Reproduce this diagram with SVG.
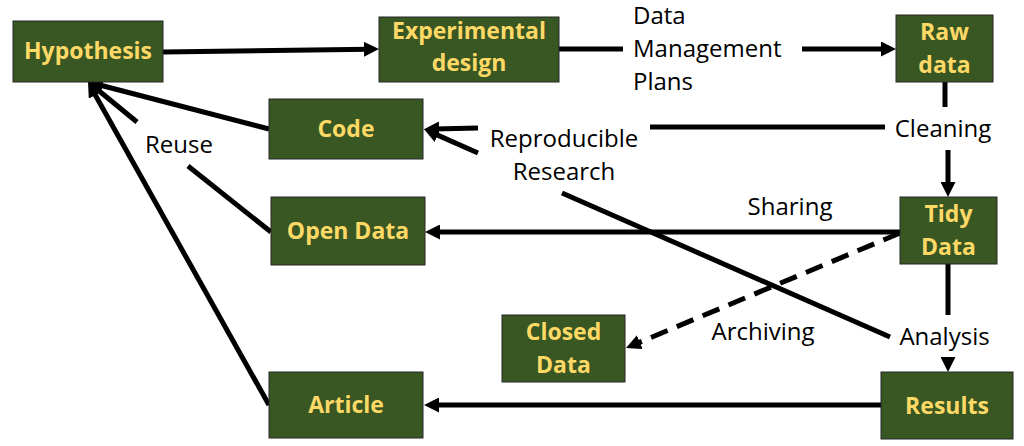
<svg xmlns="http://www.w3.org/2000/svg" width="1024" height="446" viewBox="0 0 1024 446">
<style>
.box{fill:#385723;stroke:#262626;stroke-width:1}
.nt{font-family:"Open Sans","Liberation Sans",sans-serif;font-weight:bold;font-size:23px;fill:#FFD966;text-anchor:middle}
.lb{font-family:"Open Sans","Liberation Sans",sans-serif;font-size:24px;fill:#000}
.c{fill:none;stroke:#000;stroke-width:5}
.d{stroke-dasharray:18 10}
</style>
<defs>
<marker id="ah" markerUnits="userSpaceOnUse" markerWidth="15" markerHeight="15" refX="5" refY="7.5" orient="auto" viewBox="0 0 15 15">
<path d="M0,0 L15,7.5 L0,15 z" fill="#000"/>
</marker>
</defs>
<rect width="1024" height="446" fill="#fff"/>
<g id="connectors">
<line class="c" x1="163" y1="52" x2="369" y2="49.2" marker-end="url(#ah)"/>
<line class="c" x1="559" y1="49" x2="623" y2="49"/>
<line class="c" x1="802" y1="49" x2="886" y2="49" marker-end="url(#ah)"/>
<line class="c" x1="945" y1="82" x2="945" y2="107"/>
<line class="c" x1="948" y1="150" x2="948" y2="187" marker-end="url(#ah)"/>
<line class="c" x1="885" y1="127" x2="650" y2="127"/>
<line class="c" x1="478" y1="128" x2="434" y2="129" marker-end="url(#ah)"/>
<line class="c" x1="890" y1="337" x2="562" y2="193"/>
<line class="c" x1="478" y1="153" x2="433.1" y2="133.1" marker-end="url(#ah)"/>
<line class="c" x1="900" y1="232" x2="435" y2="232" marker-end="url(#ah)"/>
<line class="c d" x1="900" y1="233" x2="635.2" y2="344.1" marker-end="url(#ah)"/>
<line class="c" x1="948" y1="264" x2="948" y2="315"/>
<line class="c" x1="948" y1="358" x2="948" y2="362" marker-end="url(#ah)"/>
<line class="c" x1="881" y1="405" x2="434" y2="405" marker-end="url(#ah)"/>
<line class="c" x1="269" y1="129" x2="97.7" y2="84.5" marker-end="url(#ah)"/>
<line class="c" x1="271" y1="232" x2="188" y2="166"/>
<line class="c" x1="137" y1="122" x2="95.8" y2="88.3" marker-end="url(#ah)"/>
<line class="c" x1="269" y1="405" x2="92.9" y2="90.7" marker-end="url(#ah)"/>
</g>
<g id="labels">
<text class="lb" x="633" y="24">Data</text>
<text class="lb" x="633" y="57">Management</text>
<text class="lb" x="633" y="90">Plans</text>
<text class="lb" x="145" y="153">Reuse</text>
<text class="lb" x="564" y="147" text-anchor="middle">Reproducible</text>
<text class="lb" x="564" y="180" text-anchor="middle">Research</text>
<text class="lb" x="943" y="137" text-anchor="middle">Cleaning</text>
<text class="lb" x="790" y="215" text-anchor="middle">Sharing</text>
<text class="lb" x="763" y="340" text-anchor="middle">Archiving</text>
<text class="lb" x="944.5" y="345" text-anchor="middle">Analysis</text>
</g>
<g id="hypothesis"><rect class="box" x="13" y="21" width="150" height="61"/><text class="nt" x="88" y="59">Hypothesis</text></g>
<g id="experimental-design"><rect class="box" x="379" y="17" width="180" height="65"/><text class="nt" x="469" y="39">Experimental</text><text class="nt" x="469" y="71">design</text></g>
<g id="raw-data"><rect class="box" x="896" y="15" width="97" height="67"/><text class="nt" x="944.5" y="40">Raw</text><text class="nt" x="944.5" y="73">data</text></g>
<g id="code"><rect class="box" x="269" y="99" width="154" height="60"/><text class="nt" x="346" y="137">Code</text></g>
<g id="open-data"><rect class="box" x="271" y="197" width="154" height="68"/><text class="nt" x="348" y="239">Open Data</text></g>
<g id="tidy-data"><rect class="box" x="900" y="197" width="97" height="67"/><text class="nt" x="948.5" y="222">Tidy</text><text class="nt" x="948.5" y="255">Data</text></g>
<g id="closed-data"><rect class="box" x="502" y="315" width="123" height="67"/><text class="nt" x="563.5" y="340">Closed</text><text class="nt" x="563.5" y="373">Data</text></g>
<g id="article"><rect class="box" x="269" y="372" width="154" height="66"/><text class="nt" x="346" y="413">Article</text></g>
<g id="results"><rect class="box" x="881" y="372" width="132" height="67"/><text class="nt" x="947" y="414">Results</text></g>
</svg>
